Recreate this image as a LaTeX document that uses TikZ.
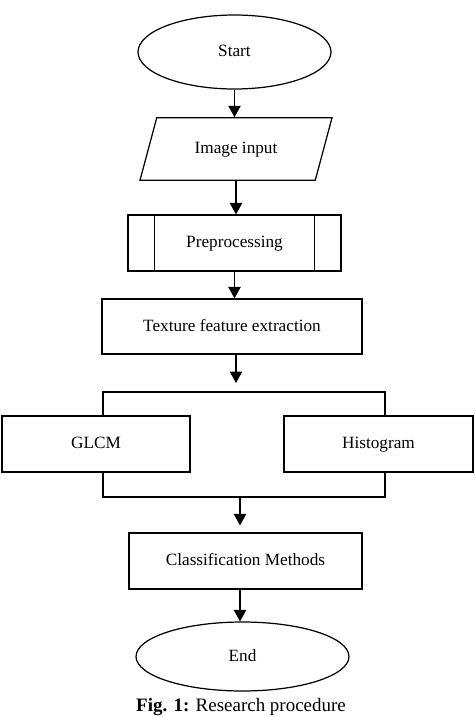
\documentclass[tikz,border=0pt]{standalone}
\usepackage{fontspec}
\setmainfont{Liberation Serif}
\usetikzlibrary{shapes.geometric,arrows.meta}
\begin{document}
\begin{tikzpicture}[x=0.02cm,y=-0.02cm,line width=0.7pt,
  every node/.style={font=\fontsize{9.8}{12}\selectfont,inner sep=0pt,text height=1.5ex,text depth=0.3ex},
  box/.style={draw,rectangle,minimum width={#1*0.02cm},minimum height=1.12cm},
  oval/.style={draw,ellipse},
  arr/.style={-{Triangle[length=6.5pt,width=7pt]}}]
\useasboundingbox (0,0) rectangle (474,717);
\node[oval,minimum width=3.86cm,minimum height=1.48cm] (start) at (234.5,52) {Start};
\node[draw,trapezium,trapezium left angle=75,trapezium right angle=105,trapezium stretches body,
  inner ysep=13.6pt,minimum width=3.84cm] (inp) at (236,149) {Image input};
\node[box=213] (pre) at (234.5,243) {Preprocessing};
\draw ([xshift=0.54cm]pre.north west) -- ([xshift=0.54cm]pre.south west)
      ([xshift=-0.54cm]pre.north east) -- ([xshift=-0.54cm]pre.south east);
\node[box=260,minimum height=1.1cm] (tex) at (232,326.5) {Texture feature extraction};
\node[box=188] (glcm) at (96,444) {GLCM};
\node[box=189] (hist) at (378.5,444) {Histogram};
\node[box=233] (cls) at (245.5,561) {Classification Methods};
\node[oval,minimum width=4.26cm,minimum height=1.38cm] (fin) at (242.5,656.5) {End};
\coordinate (splitL) at (103,392); \coordinate (splitR) at (385,392);
\coordinate (joinL) at (103,497); \coordinate (joinR) at (385,497);
\draw (glcm.north -| splitL) -- (splitL) -- (splitR) -- (hist.north -| splitR);
\draw (glcm.south -| joinL) -- (joinL) -- (joinR) -- (hist.south -| joinR);
\draw[arr] (start.south) -- (start.south |- inp.north);
\draw[arr] (inp.south) -- (inp.south |- pre.north);
\draw[arr] (pre.south) -- (pre.south |- tex.north);
\draw[arr,shorten >=0.18cm] ([xshift=0.08cm]tex.south) -- ([xshift=0.08cm]tex.south |- splitL);
\draw[arr,shorten >=0.14cm] ([xshift=-0.11cm]cls.north |- joinL) -- ([xshift=-0.11cm]cls.north);
\draw[arr] ([xshift=-0.11cm]cls.south) -- ([xshift=-0.11cm]cls.south |- fin.north);
\node[anchor=base,font=\fontsize{10.8}{13}\selectfont] (cap) at (241,711.5) {\textbf{Fig. 1:} Research procedure};
\end{tikzpicture}
\end{document}
